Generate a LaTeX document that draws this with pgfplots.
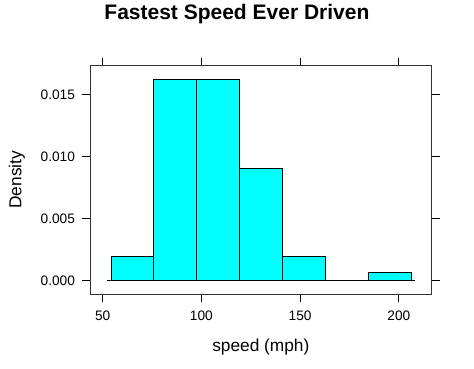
\documentclass[border=0pt]{standalone}
\usepackage{pgfplots}
\pgfplotsset{compat=1.18}
\usepackage{fontspec}
\setmainfont{Liberation Sans}
\definecolor{histcyan}{RGB}{0,255,255}
\begin{document}
\begin{tikzpicture}[x=1pt,y=1pt]
\useasboundingbox (0,0) rectangle (474,368);
\begin{axis}[
  at={(90pt,74pt)}, anchor=south west,
  scale only axis, width=341.7pt, height=228.3pt,
  xmin=43.6, xmax=216.6, ymin=-0.00108, ymax=0.01735,
  xtick={50,100,150,200}, ytick={0,0.005,0.01,0.015},
  scaled y ticks=false, scaled x ticks=false,
  tick align=outside, major tick length=8pt,
  tick pos=both, ticklabel pos=left,
  tick style={black, line width=0.9pt},
  axis line style={draw=black!80, line width=1pt},
  /pgf/number format/assume math mode=true,
  yticklabel style={xshift=-3.5pt, /pgf/number format/fixed, /pgf/number format/fixed zerofill, /pgf/number format/precision=3},
  xticklabel style={yshift=-5pt},
  ticklabel style={font=\fontsize{13.7}{16}\selectfont},
  xlabel={speed (mph)}, ylabel={Density},
  xlabel style={at={(axis description cs:0.5,0)}, anchor=base, yshift=-57pt, font=\fontsize{17.3}{20}\selectfont},
  ylabel style={at={(axis description cs:0,0.5)}, anchor=base, yshift=68.5pt, font=\fontsize{17.3}{20}\selectfont},
  title={Fastest Speed Ever Driven},
  title style={at={(axis description cs:0.430,1.178)}, anchor=base, font=\bfseries\fontsize{21}{25}\selectfont},
]
\addplot[black, line width=0.9pt, forget plot] coordinates {(52,0) (208,0)};
\addplot[ybar interval, fill=histcyan, draw=black, line width=0.8pt] coordinates {
  (54.2,0.001946) (75.9,0.016216) (97.6,0.016216) (119.3,0.009081)
  (141.0,0.001946) (162.7,0) (184.4,0.000649) (206.1,0.000649)};
\end{axis}
\end{tikzpicture}
\end{document}
